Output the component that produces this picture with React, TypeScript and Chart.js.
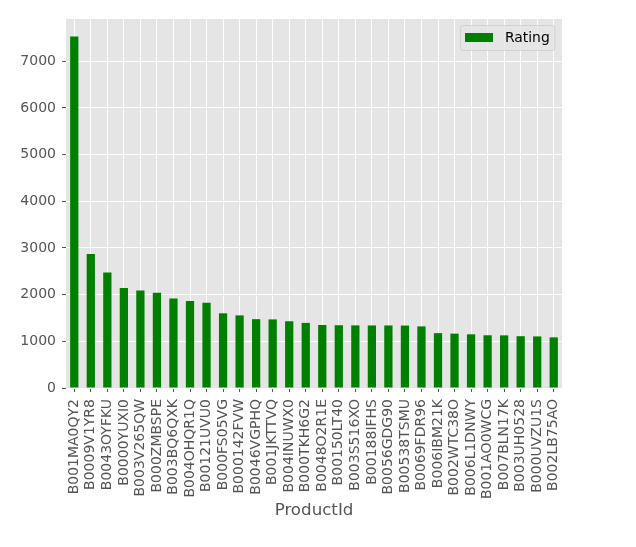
import React, { useEffect, useRef } from "react";
import { Chart, registerables } from "chart.js";

Chart.register(...registerables);

const productIds = [
  "B001MA0QY2", "B0009V1YR8", "B0043OYFKU", "B0000YUXI0", "B003V265QW", "B000ZMBSPE",
  "B003BQ6QXK", "B004OHQR1Q", "B00121UVU0", "B000FS05VG", "B000142FVW", "B0046VGPHQ",
  "B001JKTTVQ", "B004INUWX0", "B000TKH6G2", "B0048O2R1E", "B00150LT40", "B003S516XO",
  "B00188IFHS", "B0056GDG90", "B00538TSMU", "B0069FDR96", "B006IBM21K", "B002WTC38O",
  "B006L1DNWY", "B001AO0WCG", "B007BLN17K", "B003UH0528", "B000UVZU1S", "B002LB75AO",
];
const ratingCounts = [
  7533, 2869, 2477, 2143, 2088, 2041, 1918, 1865, 1825, 1600, 1556, 1475, 1470, 1430, 1395,
  1350, 1345, 1342, 1340, 1340, 1338, 1320, 1175, 1165, 1150, 1130, 1128, 1110, 1105, 1085,
];
const yTickValues = [0, 1000, 2000, 3000, 4000, 5000, 6000, 7000];
const seriesName = "Rating";
const axisTitle = "ProductId";

const FONT = "'DejaVu Sans'";
const TEXT = "#555555";

function legendSwatch(): HTMLCanvasElement {
  const c = document.createElement("canvas");
  c.width = 33;
  c.height = 9;
  const g = c.getContext("2d")!;
  g.fillStyle = "green";
  g.fillRect(0, 0, 28, 9);
  return c;
}

const panelPlugin = {
  id: "panel",
  beforeLayout(chart: any) {
    const l = chart.legend;
    l._layers = () => [{ z: 1, draw: (a: any) => l.draw(a) }];
  },
  beforeDraw(chart: any) {
    const { ctx, chartArea: a } = chart;
    ctx.save();
    ctx.fillStyle = "#E5E5E5";
    ctx.fillRect(a.left, a.top, a.right - a.left, a.bottom - a.top);
    ctx.restore();
  },
  afterLayout(chart: any) {
    const l = chart.legend;
    l.left = 460;
    l.top = 26;
    l.right = l.left + 95;
    l.bottom = 52;
  },
  afterDatasetsDraw(chart: any) {
    const { ctx } = chart;
    ctx.save();
    ctx.beginPath();
    ctx.roundRect(460.5, 25.5, 94.5, 25, 3);
    ctx.fillStyle = "rgba(229,229,229,0.8)";
    ctx.strokeStyle = "rgba(204,204,204,0.8)";
    ctx.lineWidth = 1;
    ctx.fill();
    ctx.stroke();
    ctx.restore();
  },
};

export default function App() {
  const ref = useRef<HTMLCanvasElement>(null);
  useEffect(() => {
    document.body.style.margin = "0";
    const swatch = legendSwatch();
    const chart = new Chart(ref.current!, {
      type: "bar",
      data: {
        labels: productIds,
        datasets: [
          {
            label: seriesName,
            data: ratingCounts,
            backgroundColor: "green",
            categoryPercentage: 1,
            barPercentage: 0.5,
          },
        ],
      },
      plugins: [panelPlugin],
      options: {
        animation: false,
        responsive: false,
        layout: { padding: { top: 19, right: 74, left: 0, bottom: 0 } },
        plugins: {
          tooltip: { enabled: false },
          legend: {
            display: true,
            position: "chartArea",
            align: "start",
            labels: {
              usePointStyle: true,
              pointStyleWidth: 33,
              boxHeight: 9,
              padding: 5,
              color: "#262626",
              font: { family: FONT, size: 13.9 },
              generateLabels: () => [
                { text: seriesName, pointStyle: swatch, fillStyle: "green", strokeStyle: "green", lineWidth: 0, hidden: false, datasetIndex: 0 },
              ],
            },
          },
        },
        scales: {
          x: {
            offset: true,
            afterFit: (s: any) => { s.height = 159; },
            grid: { offset: false, color: "#FFFFFF", lineWidth: 1, tickColor: TEXT, tickLength: 4 },
            border: { display: false },
            ticks: {
              autoSkip: false,
              minRotation: 90,
              maxRotation: 90,
              color: TEXT,
              padding: 7,
              font: { family: FONT, size: 14 },
            },
            title: {
              display: true,
              text: axisTitle,
              color: TEXT,
              font: { family: FONT, size: 16.67 },
              padding: { top: 0, bottom: 26 },
            },
          },
          y: {
            min: 0,
            max: 7906,
            afterFit: (s: any) => { s.width = 66; },
            afterBuildTicks: (s: any) => { s.ticks = yTickValues.map((value) => ({ value })); },
            grid: { color: "#FFFFFF", lineWidth: 1, tickColor: TEXT, tickLength: 4 },
            border: { display: false },
            ticks: {
              autoSkip: false,
              color: TEXT,
              padding: 6,
              font: { family: FONT, size: 14 },
              callback: (v: any) => String(v),
            },
          },
        },
      },
    } as any);
    return () => chart.destroy();
  }, []);
  return (
    <div style={{ position: "absolute", left: 0, top: 0, width: 636, height: 547 }}>
      <canvas ref={ref} width={636} height={547} style={{ display: "block" }} />
    </div>
  );
}
